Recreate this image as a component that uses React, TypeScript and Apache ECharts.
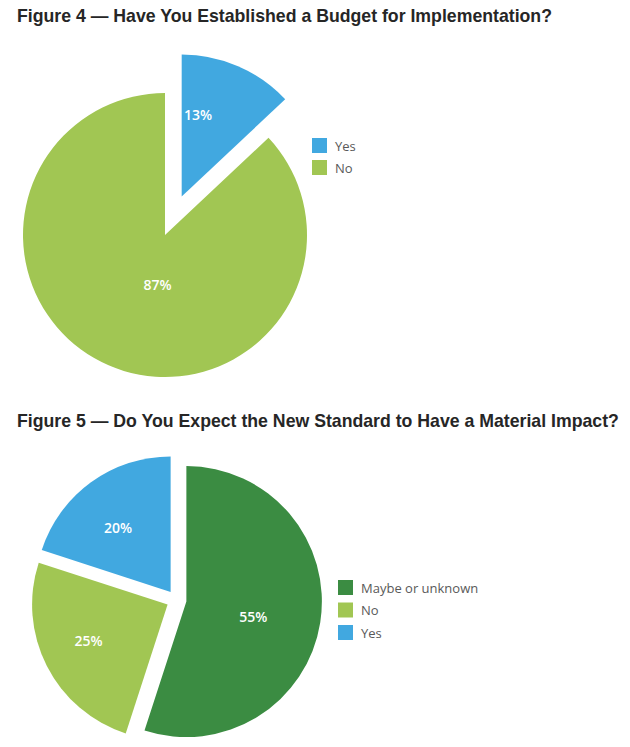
import React, { useEffect, useRef } from "react";
import * as echarts from "echarts";

const fig4Title = "Figure 4 — Have You Established a Budget for Implementation?";
const fig5Title = "Figure 5 — Do You Expect the New Standard to Have a Material Impact?";

const fig4Categories = ["Yes", "No"];
const fig4Values = [13, 87];

const fig5Categories = ["Maybe or unknown", "No", "Yes"];
const fig5Values = [55, 25, 20];

const colorMap: Record<string, string> = {
  "Maybe or unknown": "#3B8C42",
  No: "#A1C653",
  Yes: "#41A8E0",
};

const labelFont = "'Open Sans', 'Noto Sans', sans-serif";
const titleFont = "'Liberation Sans', Arial, sans-serif";

export default function App() {
  const ref = useRef<HTMLDivElement>(null);

  useEffect(() => {
    if (!ref.current) return;
    const chart = echarts.init(ref.current, null, { renderer: "svg" });

    const fig4Data = fig4Categories.map((name, i) => ({
      name,
      value: fig4Values[i],
      selected: name === "Yes",
      itemStyle: { color: colorMap[name] },
    }));
    const fig5Data = fig5Categories.map((name, i) => ({
      name,
      value: fig5Values[i],
      selected: true,
      itemStyle: { color: colorMap[name] },
    }));

    const fig4Shift = [
      [-13, -14],
      [22, -18],
    ];
    const fig5Shift = [
      [-3, 4],
      [-16, 4],
      [-11, -7],
    ];

    const labelStyle = {
      show: true,
      position: "inside",
      formatter: "{c}%",
      color: "#ffffff",
      fontFamily: labelFont,
      fontWeight: 600,
      fontSize: 14,
    };
    const legendText = {
      fontFamily: labelFont,
      fontSize: 13,
      color: "#595959",
      padding: [0, 0, 0, 3],
    };

    chart.setOption({
      animation: false,
      backgroundColor: "#ffffff",
      title: [
        {
          text: fig4Title,
          left: 12,
          top: 2,
          textStyle: { fontFamily: titleFont, fontWeight: "bold", fontSize: 17.7, color: "#262626" },
        },
        {
          text: fig5Title,
          left: 12,
          top: 407,
          textStyle: { fontFamily: titleFont, fontWeight: "bold", fontSize: 17.7, color: "#262626" },
        },
      ],
      legend: [
        {
          data: fig4Categories,
          orient: "vertical",
          left: 307,
          top: 133,
          itemWidth: 15,
          itemHeight: 15,
          itemGap: 7,
          icon: "rect",
          selectedMode: false,
          textStyle: legendText,
        },
        {
          data: fig5Categories,
          orient: "vertical",
          left: 333,
          top: 575,
          itemWidth: 15,
          itemHeight: 15,
          itemGap: 7.5,
          icon: "rect",
          selectedMode: false,
          textStyle: legendText,
        },
      ],
      series: [
        {
          type: "pie",
          center: [165, 235],
          radius: 142,
          startAngle: 90,
          clockwise: true,
          selectedMode: "multiple",
          selectedOffset: 42,
          avoidLabelOverlap: false,
          silent: true,
          emphasis: { disabled: true },
          label: labelStyle,
          labelLine: { show: false },
          labelLayout: (p: any) => ({ dx: fig4Shift[p.dataIndex][0], dy: fig4Shift[p.dataIndex][1] }),
          data: fig4Data,
        },
        {
          type: "pie",
          center: [176.5, 600],
          radius: 135.5,
          startAngle: 90,
          clockwise: true,
          selectedMode: "multiple",
          selectedOffset: 10,
          avoidLabelOverlap: false,
          silent: true,
          emphasis: { disabled: true },
          label: labelStyle,
          labelLine: { show: false },
          labelLayout: (p: any) => ({ dx: fig5Shift[p.dataIndex][0], dy: fig5Shift[p.dataIndex][1] }),
          data: fig5Data,
        },
      ],
    });

    return () => chart.dispose();
  }, []);

  return (
    <div
      ref={ref}
      style={{ position: "fixed", left: 0, top: 0, width: 630, height: 747, background: "#fff" }}
    />
  );
}
